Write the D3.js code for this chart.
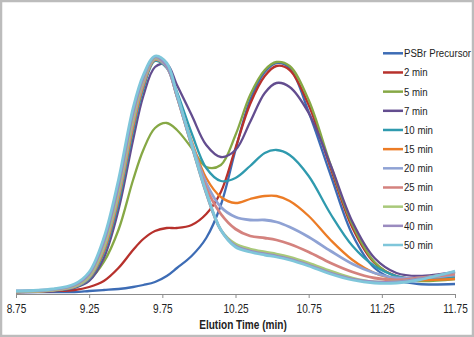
<!DOCTYPE html>
<html>
<head>
<meta charset="utf-8">
<script src="https://cdn.jsdelivr.net/npm/d3@7"></script>
<style>
  body { margin: 0; background: #fff; }
  svg { display: block; }
  text { font-family: "Liberation Sans", Arial, sans-serif; fill: #222; }
</style>
</head>
<body>
<div id="chart"></div>
<script>
var width = 474,
    height = 337;

// elution time (min)
var times = [8.75, 9.0, 9.15, 9.25, 9.35, 9.45, 9.55, 9.62, 9.7, 9.78, 9.85, 9.95, 10.05,
             10.15, 10.25, 10.35, 10.45, 10.53, 10.62, 10.75, 10.9, 11.05, 11.2, 11.35, 11.5, 11.75];

var tickValues = [8.75, 9.25, 9.75, 10.25, 10.75, 11.25, 11.75];
var tickLabels = ["8.75", "9.25", "9.75", "10.25", "10.75", "11.25", "11.75"];

var seriesNames = ["PSBr Precursor", "2 min", "5 min", "7 min", "10 min", "15 min",
                   "20 min", "25 min", "30 min", "40 min", "50 min"];
var seriesColors = ["#3d6cb5", "#b7312c", "#86a845", "#634d8f", "#2f9aae", "#ec7c26",
                    "#8fa2d4", "#d4827e", "#a9c97a", "#9a8bbf", "#7fc6da"];

// detector signal (arbitrary units) estimated from the trace heights
var precursor = [0, 0, 0, 1, 2, 3, 5, 7, 10, 16, 24, 36, 54, 87, 142, 192, 220, 229, 224, 180, 117, 57, 24, 12, 8, 8];
var min2  = [0, 1, 2, 5, 11, 24, 42, 53, 61, 64, 64, 67, 78, 100, 144, 188, 216, 226, 222, 187, 124, 64, 29, 16, 13, 14];
var min5  = [0, 2, 5, 12, 30, 62, 112, 142, 164, 169, 162, 144, 125, 127, 157, 197, 222, 230, 226, 192, 127, 67, 30, 15, 11, 13];
var min7  = [0, 1, 4, 11, 34, 82, 152, 196, 225, 228, 207, 177, 147, 135, 142, 170, 199, 209, 205, 179, 127, 70, 34, 19, 16, 20];
var min10 = [0, 1.5, 4.5, 13, 39, 89, 161, 203, 231, 224, 200, 159, 124, 111, 114, 126, 139, 142, 137, 116, 78, 46, 26, 16, 13, 15];
var min15 = [0, 1.5, 5, 14, 41, 93, 165, 206, 232, 225, 196, 151, 114, 95, 89, 93, 96, 96, 91, 76, 52, 32, 19, 13, 12, 13];
var min20 = [0.5, 2, 5.5, 15, 44, 97, 170, 209, 233, 225, 196, 149, 109, 85, 75, 72, 72, 70, 65, 55, 41, 28, 19, 14, 14, 17];
var min25 = [0.5, 2, 6, 16, 46, 100, 173, 211, 234, 226, 196, 147, 104, 78, 63, 56, 54, 52, 48, 40, 29, 20, 14, 12, 14, 18];
var min30 = [0.5, 2, 6, 16, 46, 101, 174, 212, 234, 226, 196, 147, 99, 62, 48, 43, 40, 38, 35, 29, 21, 14, 10, 10, 13, 20];
var min40 = [1, 2.5, 7, 18, 50, 106, 179, 214, 235, 226, 196, 147, 99, 62, 46, 41, 38, 36, 33, 27, 19, 13, 10, 10, 13, 20];
var min50 = [1, 3, 8, 20, 54, 112, 184, 217, 236, 229, 198, 148, 100, 62, 45, 40, 37, 35, 32, 26, 18, 12, 9, 9, 12, 21];

var seriesValues = [precursor, min2, min5, min7, min10, min15, min20, min25, min30, min40, min50];

var squeeze = 0.84; // Calibri-like narrow text

var svg = d3.select("#chart")
  .append("svg")
  .attr("width", width)
  .attr("height", height);

// outer frame
svg.append("rect")
  .attr("x", 1).attr("y", 1)
  .attr("width", width - 2).attr("height", height - 2)
  .attr("fill", "#fff")
  .attr("stroke", "#bcbcbc")
  .attr("stroke-width", 2.5);

var x = d3.scaleLinear().domain([8.75, 11.75]).range([16, 455]);
var y = d3.scaleLinear().domain([0, 240]).range([292, 52]);

var xAxis = d3.axisBottom(x)
  .tickValues(tickValues)
  .tickFormat(function(d, i) { return tickLabels[i]; })
  .tickSizeInner(4)
  .tickSizeOuter(0)
  .tickPadding(6);

var gx = svg.append("g")
  .attr("transform", "translate(0," + 294 + ")")
  .call(xAxis);
gx.select(".domain").attr("stroke", "#8c8c8c");
gx.selectAll(".tick line").attr("stroke", "#8c8c8c");
gx.selectAll(".tick text")
  .attr("font-size", 12)
  .attr("font-family", null)
  .attr("fill", "#222")
  .attr("transform", "scale(" + squeeze + ",1)");

svg.append("text")
  .attr("transform", "translate(243,329) scale(" + squeeze + ",1)")
  .attr("text-anchor", "middle")
  .attr("font-size", 12)
  .attr("font-weight", "bold")
  .text("Elution Time (min)");

var line = d3.line()
  .x(function(d) { return x(d[0]); })
  .y(function(d) { return y(d[1]); })
  .curve(d3.curveCatmullRom.alpha(0.5));

seriesValues.forEach(function(vals, i) {
  var pts = times.map(function(t, j) { return [t, vals[j]]; });
  svg.append("path")
    .attr("d", line(pts))
    .attr("fill", "none")
    .attr("stroke", seriesColors[i])
    .attr("stroke-width", i >= 6 ? 2.8 : 2.3)
    .attr("stroke-linejoin", "round");
});

// legend
var legend = svg.append("g");
seriesNames.forEach(function(name, i) {
  var ly = 53.3 + i * 19.17;
  legend.append("line")
    .attr("x1", 383).attr("x2", 403)
    .attr("y1", ly).attr("y2", ly)
    .attr("stroke", seriesColors[i])
    .attr("stroke-width", 2.5);
  legend.append("text")
    .attr("transform", "translate(404," + (ly + 4) + ") scale(" + squeeze + ",1)")
    .attr("font-size", 11.5)
    .text(name);
});
</script>
</body>
</html>
